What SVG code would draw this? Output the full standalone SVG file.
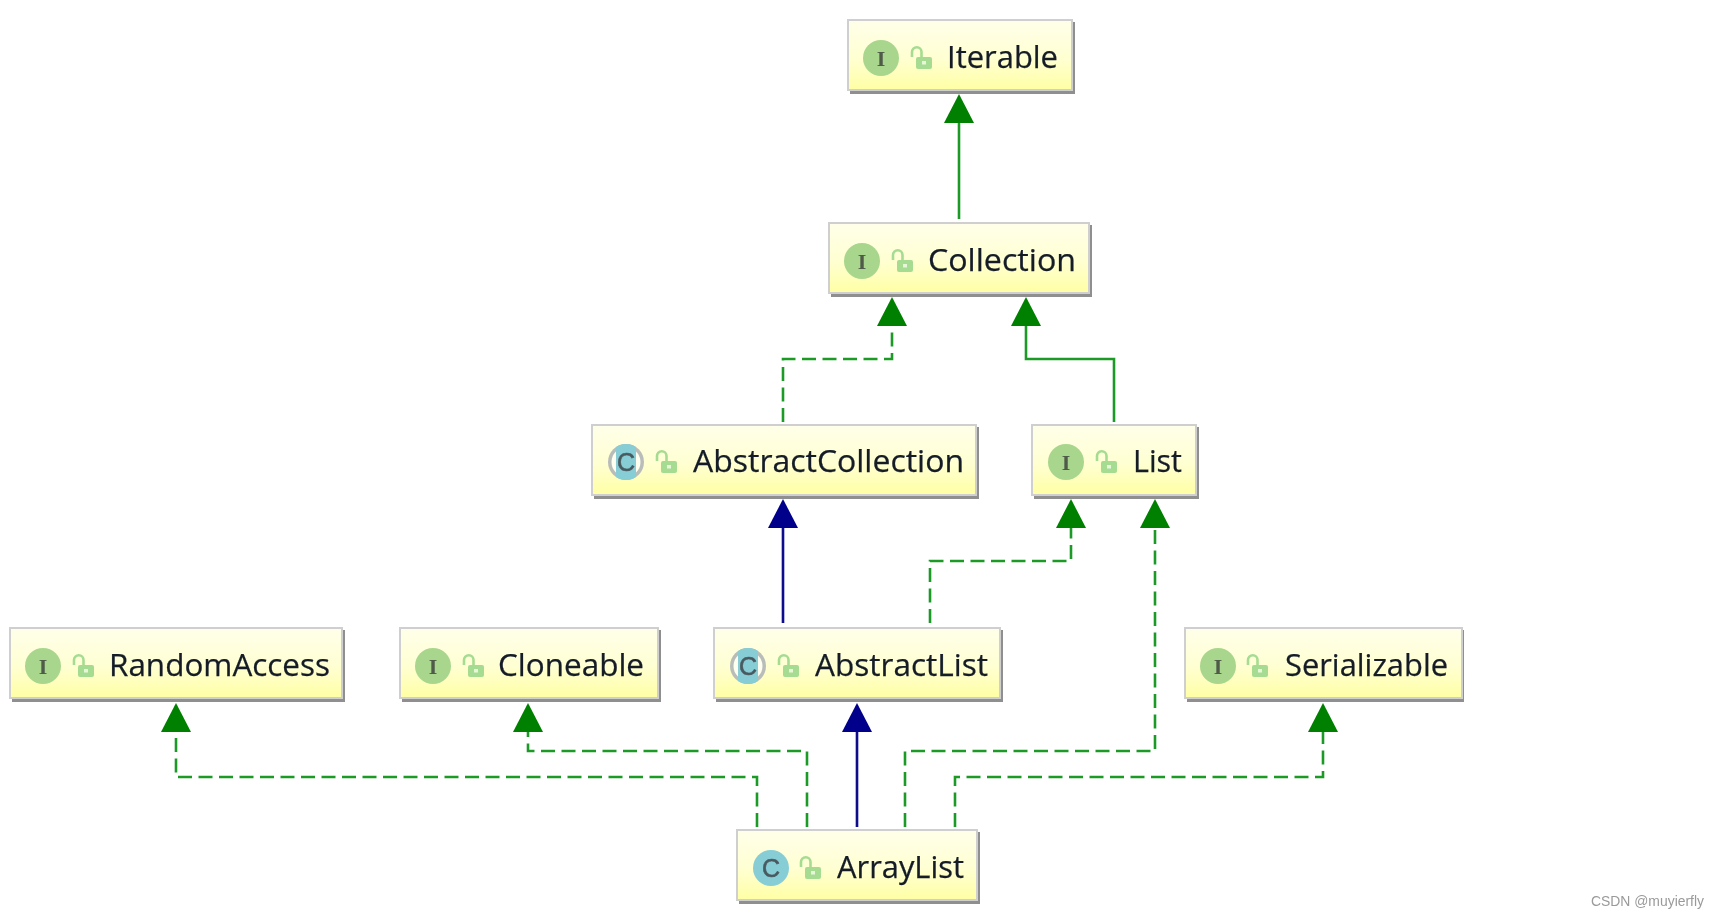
<svg xmlns="http://www.w3.org/2000/svg" width="1720" height="918" viewBox="0 0 1720 918">
<style>
.shadow{fill:#8f8f8f}
.box{fill:url(#yel);stroke:#cfcfcf;stroke-width:2}
.label{font-family:"Open Sans","Noto Sans",sans-serif;font-size:31px;fill:#141c28;stroke:#141c28;stroke-width:0.25}
.ltr{font-family:"Liberation Serif",serif;font-weight:bold;font-size:22px;fill:#4f5a4a;text-anchor:middle}
.ltrc{font-family:"Liberation Sans",sans-serif;font-size:25px;fill:#4a5a60;stroke:#4a5a60;stroke-width:0.6;text-anchor:middle}
.green{fill:none;stroke:#1e9a28;stroke-width:2.6}
.navy{fill:none;stroke:#0a0a8c;stroke-width:2.6}
.dash{stroke-dasharray:14 6.5}
.wm{font-family:"Liberation Sans",sans-serif;font-size:14px;fill:#9a9a9a}
</style>
<defs>
<linearGradient id="yel" x1="0" y1="0" x2="0" y2="1"><stop offset="0" stop-color="#ffffea"/><stop offset="0.55" stop-color="#ffffd2"/><stop offset="1" stop-color="#ffffa4"/></linearGradient>
<filter id="soft" filterUnits="userSpaceOnUse" x="0" y="0" width="1720" height="918"><feGaussianBlur stdDeviation="0.65"/></filter>
<marker id="ag" markerUnits="userSpaceOnUse" markerWidth="30" markerHeight="30" refX="1" refY="15" orient="auto" viewBox="0 0 30 30"><polygon points="0,0 29,15 0,30" fill="#008000"/></marker>
<marker id="an" markerUnits="userSpaceOnUse" markerWidth="30" markerHeight="30" refX="1" refY="15" orient="auto" viewBox="0 0 30 30"><polygon points="0,0 29,15 0,30" fill="#00008b"/></marker>
<g id="lock"><path d="M-15-1V-6a4.700 4.700 0 0 1 9.500 0V0" fill="none" stroke="#a6dc92" stroke-width="2.600"/><rect x="-11" y="-1" width="16" height="12" rx="2" fill="#a6dc92"/><rect x="-5" y="3" width="4" height="3.500" fill="#e8f5d8"/></g>
<g id="iI"><circle r="18" fill="#a8d68c"/><text class="ltr" y="7.500">I</text></g>
<g id="iC"><circle r="18" fill="#86cdd6"/><text class="ltrc" y="9">C</text></g>
<clipPath id="cp"><circle r="18"/></clipPath>
<g id="iA"><circle r="18" fill="#b9bdb9"/><circle r="14.500" fill="#fffff0"/><rect x="-10" y="-18" width="20" height="36" fill="#86cdd6" clip-path="url(#cp)"/><text class="ltrc" y="9">C</text></g>
</defs>
<rect width="1720" height="918" fill="#fff"/>
<g filter="url(#soft)">
<g id="connectors">
<path class="green" marker-end="url(#ag)" d="M959 219V122"/>
<path class="green dash" marker-end="url(#ag)" d="M783 422V359H892V325"/>
<path class="green" marker-end="url(#ag)" d="M1114 422V359H1026V325"/>
<path class="navy" marker-end="url(#an)" d="M783 623V527"/>
<path class="green dash" marker-end="url(#ag)" d="M930 623V561H1071V527"/>
<path class="green dash" marker-end="url(#ag)" d="M905 827V751H1155V527"/>
<path class="navy" marker-end="url(#an)" d="M857 827V731"/>
<path class="green dash" marker-end="url(#ag)" d="M807 827V751H528V731"/>
<path class="green dash" marker-end="url(#ag)" d="M757 827V777H176V731"/>
<path class="green dash" marker-end="url(#ag)" d="M955 827V777H1323V731"/>
</g>
<g id="node-iterable"><rect class="shadow" x="850" y="22" width="225" height="72"/><rect class="box" x="848" y="20" width="224" height="70"/><use href="#iI" x="881" y="58"/><use href="#lock" x="927" y="58"/><text class="label" x="947" y="68" textLength="111" lengthAdjust="spacingAndGlyphs">Iterable</text></g>
<g id="node-collection"><rect class="shadow" x="831" y="225" width="261" height="72"/><rect class="box" x="829" y="223" width="260" height="70"/><use href="#iI" x="862" y="261"/><use href="#lock" x="908" y="261"/><text class="label" x="928" y="271" textLength="148" lengthAdjust="spacingAndGlyphs">Collection</text></g>
<g id="node-abstractcollection"><rect class="shadow" x="594" y="427" width="385" height="72"/><rect class="box" x="592" y="425" width="384" height="70"/><use href="#iA" x="626" y="462"/><use href="#lock" x="672" y="462"/><text class="label" x="693" y="472" textLength="271" lengthAdjust="spacingAndGlyphs">AbstractCollection</text></g>
<g id="node-list"><rect class="shadow" x="1034" y="427" width="165" height="72"/><rect class="box" x="1032" y="425" width="164" height="70"/><use href="#iI" x="1066" y="462"/><use href="#lock" x="1112" y="462"/><text class="label" x="1133" y="472" textLength="49" lengthAdjust="spacingAndGlyphs">List</text></g>
<g id="node-randomaccess"><rect class="shadow" x="12" y="630" width="333" height="72"/><rect class="box" x="10" y="628" width="332" height="70"/><use href="#iI" x="43" y="666"/><use href="#lock" x="89" y="666"/><text class="label" x="109" y="676" textLength="221" lengthAdjust="spacingAndGlyphs">RandomAccess</text></g>
<g id="node-cloneable"><rect class="shadow" x="402" y="630" width="259" height="72"/><rect class="box" x="400" y="628" width="258" height="70"/><use href="#iI" x="433" y="666"/><use href="#lock" x="479" y="666"/><text class="label" x="498" y="676" textLength="146" lengthAdjust="spacingAndGlyphs">Cloneable</text></g>
<g id="node-abstractlist"><rect class="shadow" x="716" y="630" width="287" height="72"/><rect class="box" x="714" y="628" width="286" height="70"/><use href="#iA" x="748" y="666"/><use href="#lock" x="794" y="666"/><text class="label" x="815" y="676" textLength="173" lengthAdjust="spacingAndGlyphs">AbstractList</text></g>
<g id="node-serializable"><rect class="shadow" x="1187" y="630" width="277" height="72"/><rect class="box" x="1185" y="628" width="277" height="70"/><use href="#iI" x="1218" y="666"/><use href="#lock" x="1263" y="666"/><text class="label" x="1285" y="676" textLength="163" lengthAdjust="spacingAndGlyphs">Serializable</text></g>
<g id="node-arraylist"><rect class="shadow" x="739" y="832" width="241" height="72"/><rect class="box" x="737" y="830" width="240" height="70"/><use href="#iC" x="771" y="868"/><use href="#lock" x="816" y="868"/><text class="label" x="837" y="878" textLength="127" lengthAdjust="spacingAndGlyphs">ArrayList</text></g>
<text class="wm" x="1591" y="906" textLength="113" lengthAdjust="spacingAndGlyphs">CSDN @muyierfly</text>
</g>
</svg>
